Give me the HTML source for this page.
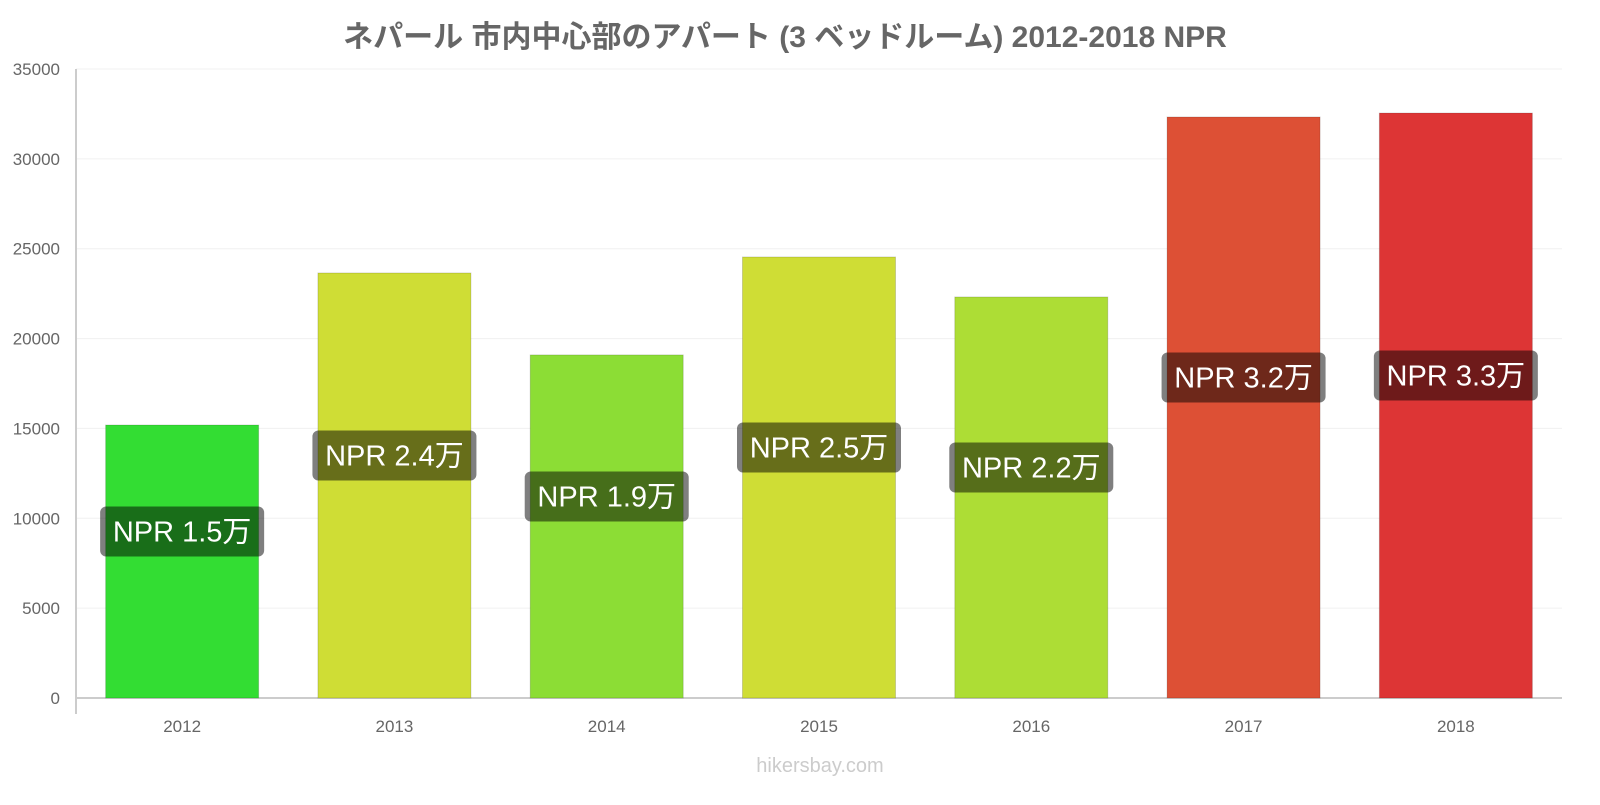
<!DOCTYPE html>
<html><head><meta charset="utf-8"><style>
body{margin:0;background:#fff;}
svg text{font-family:"Liberation Sans","Noto Sans CJK JP",sans-serif;}
</style></head><body>
<svg id="c" width="1600" height="800">
<text x="785" y="47" text-anchor="middle" font-size="30" font-weight="bold" fill="#666">ネパール 市内中心部のアパート (3 ベッドルーム) 2012-2018 NPR</text>
<text x="820" y="772" text-anchor="middle" font-size="20" fill="#ccc">hikersbay.com</text>
<g id="grid"></g><g id="bars"></g><g id="labels"></g>
</svg>
<script>
const categories=["2012","2013","2014","2015","2016","2017","2018"];
const values=[15190,23650,19090,24540,22315,32330,32550];
const valueLabels=["NPR 1.5万","NPR 2.4万","NPR 1.9万","NPR 2.5万","NPR 2.2万","NPR 3.2万","NPR 3.3万"];
const yTicks=[0,5000,10000,15000,20000,25000,30000,35000];
const colors=["#33dd33","#cfdd35","#8cdd35","#cfdd35","#addd35","#dd5035","#dd3535"];
const NS="http://www.w3.org/2000/svg";
const x0=76,x1=1562,y0=698,yTop=69,maxV=35000;
const bw=(x1-x0)/categories.length;
const y=v=>y0-(v/maxV)*(y0-yTop);
const xc=i=>x0+bw*(i+0.5);
function mk(t,a,p){const e=document.createElementNS(NS,t);for(const k in a)e.setAttribute(k,a[k]);p.appendChild(e);return e;}
const grid=document.getElementById('grid'),bars=document.getElementById('bars'),labels=document.getElementById('labels');
yTicks.forEach(t=>{
 const l=mk('line',{x1:x0,x2:x1,y1:y(t),y2:y(t),stroke:t===0?'#ccc':'#f0f0f0','stroke-width':t===0?2:1},grid);
 
 
 const tx=mk('text',{x:60,y:y(t)+6,'text-anchor':'end','font-size':17,fill:'#666'},grid);
 tx.textContent=t;
 
 
});
const ax=mk('line',{x1:x0,x2:x0,y1:yTop,y2:714,stroke:'#ccc','stroke-width':2},grid);


categories.forEach((c,i)=>{
 const w=153,cx=xc(i);
 const r=mk('rect',{x:cx-w/2,y:y(values[i]),width:w,height:y0-y(values[i]),fill:colors[i],stroke:'rgba(0,0,0,0.15)'},bars);
 
 
 const t=mk('text',{x:cx,y:732,'text-anchor':'middle','font-size':17,fill:'#666'},grid);
 t.textContent=c;
 
 
 const ly=(y(values[i])+y0)/2-30;
 const b=mk('rect',{x:cx-82,y:ly-25,width:164,height:50,rx:6,fill:'rgba(0,0,0,0.5)'},labels);
 
 
 const lt=mk('text',{x:cx,y:ly+10,'text-anchor':'middle','font-size':29,fill:'#fff'},labels);
 lt.textContent=valueLabels[i];
 
 
});
</script>
</body></html>
